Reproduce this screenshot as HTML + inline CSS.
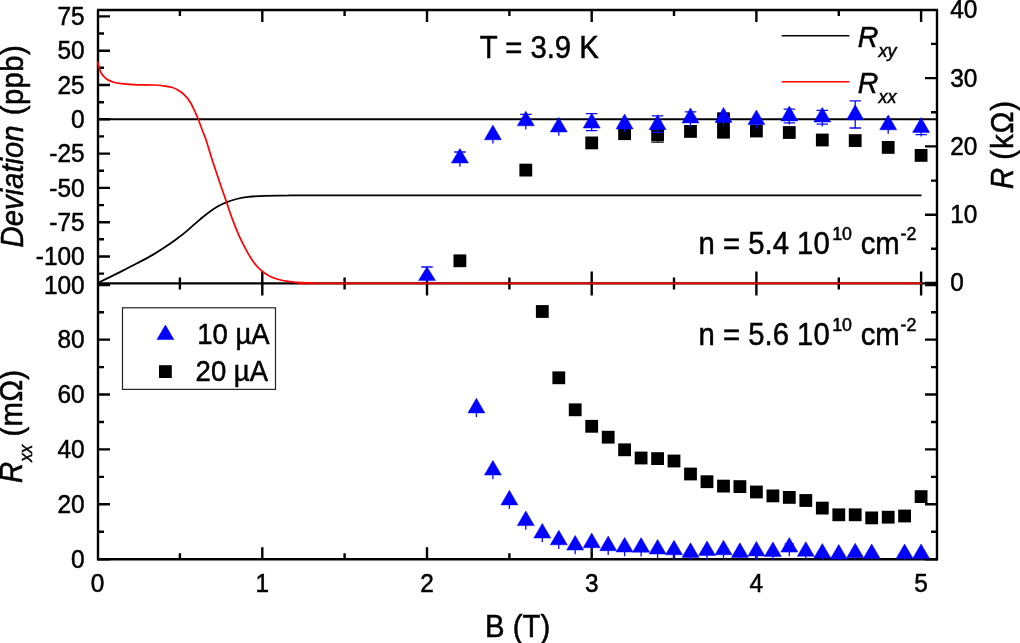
<!DOCTYPE html>
<html lang="en"><head><meta charset="utf-8"><title>Deviation and Rxx vs B</title>
<style>html,body{margin:0;padding:0;background:#fff}body{width:1020px;height:643px;overflow:hidden}svg{display:block}</style>
</head><body>
<svg width="1020" height="643" viewBox="0 0 1020 643">
<rect width="1020" height="643" fill="#fff"/>
<g stroke="#000" stroke-width="2.4" fill="none" stroke-linecap="butt">
<path d="M97.0 10.0 H938.0"/>
<path d="M98.0 10.0 V560.2"/>
<path d="M937.0 10.0 V560.2"/>
<path d="M97.0 559.2 H938.0"/>
<path d="M97.0 283.4 H938.0"/>
<path d="M179.9 10.0 v6 M179.9 277.4 v12 M179.9 559.2 v-6 M262.3 10.0 v12 M262.3 271.4 v24 M262.3 559.2 v-12 M344.6 10.0 v6 M344.6 277.4 v12 M344.6 559.2 v-6 M427.0 10.0 v12 M427.0 271.4 v24 M427.0 559.2 v-12 M509.4 10.0 v6 M509.4 277.4 v12 M509.4 559.2 v-6 M591.7 10.0 v12 M591.7 271.4 v24 M591.7 559.2 v-12 M674.0 10.0 v6 M674.0 277.4 v12 M674.0 559.2 v-6 M756.4 10.0 v12 M756.4 271.4 v24 M756.4 559.2 v-12 M838.8 10.0 v6 M838.8 277.4 v12 M838.8 559.2 v-6 M921.1 10.0 v12 M921.1 271.4 v24 M921.1 559.2 v-12 M98.0 16.4 h12 M98.0 33.5 h6 M98.0 50.7 h12 M98.0 67.8 h6 M98.0 85.0 h12 M98.0 102.2 h6 M98.0 119.3 h12 M98.0 136.4 h6 M98.0 153.6 h12 M98.0 170.8 h6 M98.0 187.9 h12 M98.0 205.1 h6 M98.0 222.2 h12 M98.0 239.3 h6 M98.0 256.5 h12 M98.0 273.6 h6 M937.0 283.0 h-12 M937.0 248.8 h-6 M937.0 214.7 h-12 M937.0 180.6 h-6 M937.0 146.4 h-12 M937.0 112.2 h-6 M937.0 78.1 h-12 M937.0 43.9 h-6 M98.0 559.2 h12 M937.0 559.2 h-12 M98.0 531.8 h6 M937.0 531.8 h-6 M98.0 504.3 h12 M937.0 504.3 h-12 M98.0 476.9 h6 M937.0 476.9 h-6 M98.0 449.4 h12 M937.0 449.4 h-12 M98.0 422.0 h6 M937.0 422.0 h-6 M98.0 394.5 h12 M937.0 394.5 h-12 M98.0 367.1 h6 M937.0 367.1 h-6 M98.0 339.6 h12 M937.0 339.6 h-12 M98.0 312.2 h6 M937.0 312.2 h-6 M98.0 285.0 h12 M937.0 285.0 h-12"/>
</g>
<path d="M98.0 119.3 H937.0" stroke="#000" stroke-width="1.9" fill="none"/>
<path d="M97.8 283.0 C101.7 281.1 114.9 274.7 121.4 271.4 C127.9 268.1 131.8 266.1 137.0 263.3 C142.2 260.6 148.1 257.6 152.7 254.9 C157.3 252.2 160.8 249.9 164.7 247.3 C168.6 244.7 172.5 242.0 176.3 239.2 C180.1 236.4 183.4 233.9 187.3 230.6 C191.2 227.3 196.2 222.6 199.8 219.6 C203.4 216.6 205.7 214.6 208.7 212.4 C211.7 210.2 215.1 207.9 218.0 206.2 C220.9 204.5 223.1 203.5 226.2 202.3 C229.3 201.1 232.9 199.9 236.6 199.0 C240.3 198.1 243.6 197.4 248.3 196.9 C253.0 196.4 256.8 196.1 264.6 195.8 C272.4 195.6 280.8 195.5 295.0 195.4 C309.2 195.3 245.6 195.3 350.0 195.3 C454.4 195.3 826.2 195.3 921.5 195.3" stroke="#000" stroke-width="1.8" fill="none" stroke-linejoin="round"/>
<path d="M97.5 61.3 C97.8 62.5 98.6 66.5 99.4 68.8 C100.2 71.1 101.2 73.3 102.5 75.1 C103.8 76.9 105.5 78.3 107.3 79.5 C109.1 80.7 111.2 81.5 113.5 82.2 C115.8 82.9 117.5 83.2 121.4 83.6 C125.3 84.0 131.9 84.6 137.1 84.8 C142.3 85.0 148.3 84.8 152.7 85.0 C157.1 85.2 160.5 85.4 163.7 85.8 C166.8 86.2 169.2 86.6 171.6 87.3 C173.9 88.0 175.7 88.8 177.8 90.0 C179.9 91.2 182.0 92.6 184.1 94.7 C186.2 96.8 188.6 99.6 190.4 102.5 C192.2 105.4 193.8 109.2 195.1 112.0 C196.4 114.8 197.0 116.0 198.2 119.0 C199.4 122.0 200.9 126.5 202.2 130.0 C203.5 133.5 204.2 134.4 206.1 140.0 C207.9 145.6 210.9 155.9 213.3 163.3 C215.7 170.7 218.2 178.0 220.3 184.3 C222.5 190.6 224.2 195.5 226.2 201.1 C228.1 206.7 229.9 212.3 232.0 218.1 C234.1 223.8 236.7 230.3 239.0 235.6 C241.3 240.8 243.7 245.3 246.0 249.6 C248.3 253.9 250.7 258.0 253.0 261.3 C255.3 264.6 257.3 266.9 260.0 269.4 C262.7 271.8 266.2 274.3 269.3 276.0 C272.4 277.7 275.5 278.6 278.6 279.5 C281.7 280.4 284.1 280.8 288.0 281.3 C291.9 281.8 296.6 282.4 302.0 282.7 C307.4 283.0 312.6 283.2 320.6 283.3 C328.6 283.4 249.8 283.4 350.0 283.4 C450.2 283.4 826.7 283.4 922.0 283.4" stroke="#f00" stroke-width="1.7" fill="none" stroke-linejoin="round"/>
<g fill="#000">
<rect x="453.5" y="254.4" width="12.8" height="12.8"/>
<rect x="519.4" y="163.7" width="12.8" height="12.8"/>
<rect x="585.3" y="136.5" width="12.8" height="12.8"/>
<rect x="618.2" y="127.3" width="12.8" height="12.8"/>
<rect x="651.2" y="128.3" width="12.8" height="12.8"/>
<rect x="684.1" y="125.0" width="12.8" height="12.8"/>
<rect x="717.1" y="125.8" width="12.8" height="12.8"/>
<rect x="750.0" y="124.6" width="12.8" height="12.8"/>
<rect x="782.9" y="126.1" width="12.8" height="12.8"/>
<rect x="815.9" y="133.6" width="12.8" height="12.8"/>
<rect x="848.8" y="134.2" width="12.8" height="12.8"/>
<rect x="881.8" y="141.0" width="12.8" height="12.8"/>
<rect x="914.7" y="149.0" width="12.8" height="12.8"/>
</g>
<path d="M657.6 127.0 V142.1 M651.3 142.1 h12.5 M723.5 113.2 V138.0 M717.2 113.2 h12.5" stroke="#000" stroke-width="1.2" fill="none"/>
<path d="M717.1 112.6 h12.8 v14 h-12.8z" fill="#000"/>
<g fill="#00f" stroke="#00f" stroke-width="0.5">
<path d="M427.0 266.7 L435.5 280.6 L418.5 280.6 Z"/>
<path d="M459.9 148.5 L468.4 163.0 L451.4 163.0 Z"/>
<path d="M492.9 125.1 L501.4 139.8 L484.4 139.8 Z"/>
<path d="M525.8 111.2 L534.3 125.8 L517.3 125.8 Z"/>
<path d="M558.8 117.4 L567.3 132.0 L550.3 132.0 Z"/>
<path d="M591.7 113.3 L600.2 128.0 L583.2 128.0 Z"/>
<path d="M624.6 114.0 L633.1 128.9 L616.1 128.9 Z"/>
<path d="M657.6 114.8 L666.1 129.7 L649.1 129.7 Z"/>
<path d="M690.5 107.9 L699.0 122.9 L682.0 122.9 Z"/>
<path d="M723.5 107.4 L732.0 122.4 L715.0 122.4 Z"/>
<path d="M756.4 110.0 L764.9 124.6 L747.9 124.6 Z"/>
<path d="M789.3 106.1 L797.8 120.9 L780.8 120.9 Z"/>
<path d="M822.3 107.4 L830.8 122.0 L813.8 122.0 Z"/>
<path d="M855.2 104.7 L863.7 119.7 L846.7 119.7 Z"/>
<path d="M888.2 114.9 L896.7 129.8 L879.7 129.8 Z"/>
<path d="M921.1 117.6 L929.6 132.4 L912.6 132.4 Z"/>
</g>
<path d="M427.0 267.0 V281.0 M421.2 267.0 h11.5 M459.9 152.0 V166.8 M454.2 152.0 h11.5 M492.9 128.0 V143.5 M525.8 114.3 V129.5 M520.1 114.3 h11.5 M558.8 120.0 V135.7 M591.7 113.6 V130.7 M585.9 113.6 h11.5 M585.9 130.7 h11.5 M624.6 117.0 V131.5 M657.6 115.8 V132.4 M651.8 115.8 h11.5 M651.8 132.4 h11.5 M690.5 111.8 V126.8 M684.8 111.8 h11.5 M723.5 110.0 V126.0 M756.4 113.0 V128.5 M789.3 109.1 V122.9 M783.6 109.1 h11.5 M783.6 122.9 h11.5 M822.3 110.4 V124.1 M816.5 110.4 h11.5 M816.5 124.1 h11.5 M855.2 100.8 V128.0 M849.5 100.8 h11.5 M849.5 128.0 h11.5 M888.2 118.0 V133.8 M921.1 121.0 V134.7 M915.4 134.7 h11.5" stroke="#0a0aff" stroke-width="1.3" fill="none"/>
<g fill="#000">
<rect x="535.9" y="305.1" width="12.8" height="12.8"/>
<rect x="552.4" y="371.4" width="12.8" height="12.8"/>
<rect x="568.8" y="403.4" width="12.8" height="12.8"/>
<rect x="585.3" y="419.9" width="12.8" height="12.8"/>
<rect x="601.8" y="430.8" width="12.8" height="12.8"/>
<rect x="618.2" y="443.4" width="12.8" height="12.8"/>
<rect x="634.7" y="451.6" width="12.8" height="12.8"/>
<rect x="651.2" y="452.2" width="12.8" height="12.8"/>
<rect x="667.6" y="454.6" width="12.8" height="12.8"/>
<rect x="684.1" y="467.6" width="12.8" height="12.8"/>
<rect x="700.6" y="475.3" width="12.8" height="12.8"/>
<rect x="717.1" y="479.7" width="12.8" height="12.8"/>
<rect x="733.5" y="480.2" width="12.8" height="12.8"/>
<rect x="750.0" y="485.6" width="12.8" height="12.8"/>
<rect x="766.5" y="489.5" width="12.8" height="12.8"/>
<rect x="782.9" y="491.0" width="12.8" height="12.8"/>
<rect x="799.4" y="494.1" width="12.8" height="12.8"/>
<rect x="815.9" y="501.7" width="12.8" height="12.8"/>
<rect x="832.4" y="508.4" width="12.8" height="12.8"/>
<rect x="848.8" y="508.4" width="12.8" height="12.8"/>
<rect x="865.3" y="511.5" width="12.8" height="12.8"/>
<rect x="881.8" y="510.8" width="12.8" height="12.8"/>
<rect x="898.2" y="509.6" width="12.8" height="12.8"/>
<rect x="914.7" y="490.2" width="12.8" height="12.8"/>
</g>
<g fill="#00f" stroke="#00f" stroke-width="0.5">
<path d="M476.4 398.3 L484.9 412.9 L467.9 412.9 Z"/>
<path d="M492.9 460.4 L501.4 475.0 L484.4 475.0 Z"/>
<path d="M509.4 490.3 L517.9 504.9 L500.9 504.9 Z"/>
<path d="M525.8 511.0 L534.3 525.6 L517.3 525.6 Z"/>
<path d="M542.3 523.4 L550.8 538.0 L533.8 538.0 Z"/>
<path d="M558.8 530.2 L567.3 544.8 L550.3 544.8 Z"/>
<path d="M575.2 535.4 L583.7 550.0 L566.7 550.0 Z"/>
<path d="M591.7 533.1 L600.2 547.7 L583.2 547.7 Z"/>
<path d="M608.2 536.1 L616.7 550.7 L599.7 550.7 Z"/>
<path d="M624.6 537.4 L633.1 552.0 L616.1 552.0 Z"/>
<path d="M641.1 537.6 L649.6 552.2 L632.6 552.2 Z"/>
<path d="M657.6 539.4 L666.1 554.0 L649.1 554.0 Z"/>
<path d="M674.0 540.2 L682.5 554.8 L665.5 554.8 Z"/>
<path d="M690.5 542.8 L699.0 557.4 L682.0 557.4 Z"/>
<path d="M707.0 541.0 L715.5 555.6 L698.5 555.6 Z"/>
<path d="M723.5 540.2 L732.0 554.8 L715.0 554.8 Z"/>
<path d="M739.9 542.8 L748.4 557.4 L731.4 557.4 Z"/>
<path d="M756.4 541.4 L764.9 556.0 L747.9 556.0 Z"/>
<path d="M772.9 542.0 L781.4 556.6 L764.4 556.6 Z"/>
<path d="M789.3 537.5 L797.8 552.1 L780.8 552.1 Z"/>
<path d="M805.8 541.7 L814.3 556.3 L797.3 556.3 Z"/>
<path d="M822.3 543.5 L830.8 558.1 L813.8 558.1 Z"/>
<path d="M838.8 544.5 L847.2 559.1 L830.2 559.1 Z"/>
<path d="M855.2 543.2 L863.7 557.8 L846.7 557.8 Z"/>
<path d="M871.7 544.0 L880.2 558.6 L863.2 558.6 Z"/>
<path d="M904.6 544.0 L913.1 558.6 L896.1 558.6 Z"/>
<path d="M921.1 544.0 L929.6 558.6 L912.6 558.6 Z"/>
</g>
<path d="M476.4 401.3 V417.1 M492.9 463.4 V479.2 M509.4 493.3 V509.1 M525.8 514.0 V529.8 M542.3 526.4 V542.2 M558.8 533.2 V549.0 M575.2 538.4 V554.2 M591.7 536.1 V551.9 M608.2 539.1 V554.9 M624.6 540.4 V556.2 M641.1 540.6 V556.4 M657.6 542.4 V558.2 M674.0 543.2 V559.0 M690.5 545.8 V559.5 M707.0 544.0 V559.5 M723.5 543.2 V559.0 M739.9 545.8 V559.5 M756.4 544.4 V559.5 M772.9 545.0 V559.5 M789.3 540.5 V556.3 M805.8 544.7 V559.5 M822.3 546.5 V559.5 M838.8 547.5 V559.5 M855.2 546.2 V559.5 M871.7 547.0 V559.5 M904.6 547.0 V559.5 M921.1 547.0 V559.5" stroke="#0a0aff" stroke-width="1.3" fill="none"/>
<path d="M784.6 544 h9.5" stroke="#0a0aff" stroke-width="1.3" fill="none"/>
<path d="M789.3 122.9 V124.6 M822.3 124.1 V126.4 M921.1 134.7 V136.6" stroke="#0a0aff" stroke-width="1.3" fill="none"/>
<rect x="122.5" y="307.8" width="153" height="81.6" fill="#fff" stroke="#222" stroke-width="1.2"/>
<g fill="#00f" stroke="#00f" stroke-width="0.5"><path d="M165.4 325.0 L173.9 339.6 L156.9 339.6 Z"/></g>
<g fill="#000"><rect x="159.0" y="365.2" width="12.8" height="12.8"/></g>
<path d="M781.7 35.8 H849.4" stroke="#000" stroke-width="1.5"/>
<path d="M781.7 81.7 H849.4" stroke="#f00" stroke-width="1.5"/>
<g font-family="'Liberation Sans', sans-serif" fill="#000" stroke="#000" stroke-width="0.5">
<text transform="translate(84.6 25.0) scale(1 1.045)" font-size="24.4" text-anchor="end">75</text>
<text transform="translate(84.6 59.3) scale(1 1.045)" font-size="24.4" text-anchor="end">50</text>
<text transform="translate(84.6 93.6) scale(1 1.045)" font-size="24.4" text-anchor="end">25</text>
<text transform="translate(84.6 127.9) scale(1 1.045)" font-size="24.4" text-anchor="end">0</text>
<text transform="translate(84.6 162.2) scale(1 1.045)" font-size="24.4" text-anchor="end">-25</text>
<text transform="translate(84.6 196.5) scale(1 1.045)" font-size="24.4" text-anchor="end">-50</text>
<text transform="translate(84.6 230.8) scale(1 1.045)" font-size="24.4" text-anchor="end">-75</text>
<text transform="translate(84.6 265.1) scale(1 1.045)" font-size="24.4" text-anchor="end">-100</text>
<text transform="translate(84.6 294.3) scale(1 1.045)" font-size="24.4" text-anchor="end">100</text>
<text transform="translate(84.6 348.4) scale(1 1.045)" font-size="24.4" text-anchor="end">80</text>
<text transform="translate(84.6 403.3) scale(1 1.045)" font-size="24.4" text-anchor="end">60</text>
<text transform="translate(84.6 458.2) scale(1 1.045)" font-size="24.4" text-anchor="end">40</text>
<text transform="translate(84.6 513.1) scale(1 1.045)" font-size="24.4" text-anchor="end">20</text>
<text transform="translate(84.6 568.0) scale(1 1.045)" font-size="24.4" text-anchor="end">0</text>
<text transform="translate(950.3 18.2) scale(1 1.045)" font-size="24.4" text-anchor="start">40</text>
<text transform="translate(950.3 86.5) scale(1 1.045)" font-size="24.4" text-anchor="start">30</text>
<text transform="translate(950.3 154.8) scale(1 1.045)" font-size="24.4" text-anchor="start">20</text>
<text transform="translate(950.3 223.1) scale(1 1.045)" font-size="24.4" text-anchor="start">10</text>
<text transform="translate(950.3 291.4) scale(1 1.045)" font-size="24.4" text-anchor="start">0</text>
<text transform="translate(97.6 591.6) scale(1 1.045)" font-size="24.4" text-anchor="middle">0</text>
<text transform="translate(262.3 591.6) scale(1 1.045)" font-size="24.4" text-anchor="middle">1</text>
<text transform="translate(427.0 591.6) scale(1 1.045)" font-size="24.4" text-anchor="middle">2</text>
<text transform="translate(591.7 591.6) scale(1 1.045)" font-size="24.4" text-anchor="middle">3</text>
<text transform="translate(756.4 591.6) scale(1 1.045)" font-size="24.4" text-anchor="middle">4</text>
<text transform="translate(921.1 591.6) scale(1 1.045)" font-size="24.4" text-anchor="middle">5</text>
<text transform="translate(517.6 636.5) scale(1 1.045)" font-size="29.3" text-anchor="middle">B (T)</text>
<text transform="translate(479.7 58.3) scale(1 1.045)" font-size="29.3" text-anchor="start">T = 3.9 K</text>
<text transform="translate(698.6 254.4) scale(1 1.045)" font-size="29.3" text-anchor="start">n = 5.4 10<tspan dx="2.5" dy="-13.4" font-size="17.8">10</tspan><tspan dx="8.7" dy="13.4" font-size="29.3">cm</tspan><tspan dx="0.8" dy="-13.4" font-size="17.8">-2</tspan></text>
<text transform="translate(698.6 345.4) scale(1 1.045)" font-size="29.3" text-anchor="start">n = 5.6 10<tspan dx="2.5" dy="-13.4" font-size="17.8">10</tspan><tspan dx="8.7" dy="13.4" font-size="29.3">cm</tspan><tspan dx="0.8" dy="-13.4" font-size="17.8">-2</tspan></text>
<text transform="translate(197.2 343.8) scale(1 1.045)" font-size="27.5" text-anchor="start">10 µA</text>
<text transform="translate(195.6 381.0) scale(1 1.045)" font-size="27.5" text-anchor="start">20 µA</text>
<text transform="translate(857.8 46.8) scale(1 1.045)" font-size="28.6" text-anchor="start" font-style="italic">R<tspan dy="10" font-size="18">xy</tspan></text>
<text transform="translate(857.8 92.5) scale(1 1.045)" font-size="28.6" text-anchor="start" font-style="italic">R<tspan dy="10" font-size="18">xx</tspan></text>
<text transform="translate(23.0 247.5) rotate(-90) scale(1 1.045)" font-size="29.3" text-anchor="start"><tspan font-style="italic">Deviation</tspan><tspan dx="1.5" letter-spacing="0.45"> (ppb)</tspan></text>
<text transform="translate(22.3 483.0) rotate(-90) scale(1 1.045)" font-size="29.3" text-anchor="start"><tspan font-style="italic">R<tspan dy="9.4" font-size="17">xx</tspan></tspan><tspan dy="-9.4" letter-spacing="0.25"> (mΩ)</tspan></text>
<text transform="translate(1013.4 189.0) rotate(-90) scale(1 1.045)" font-size="29.3" text-anchor="start"><tspan font-style="italic">R</tspan><tspan dx="-0.9" letter-spacing="0.9"> (kΩ)</tspan></text>
</g>
</svg>
</body></html>
